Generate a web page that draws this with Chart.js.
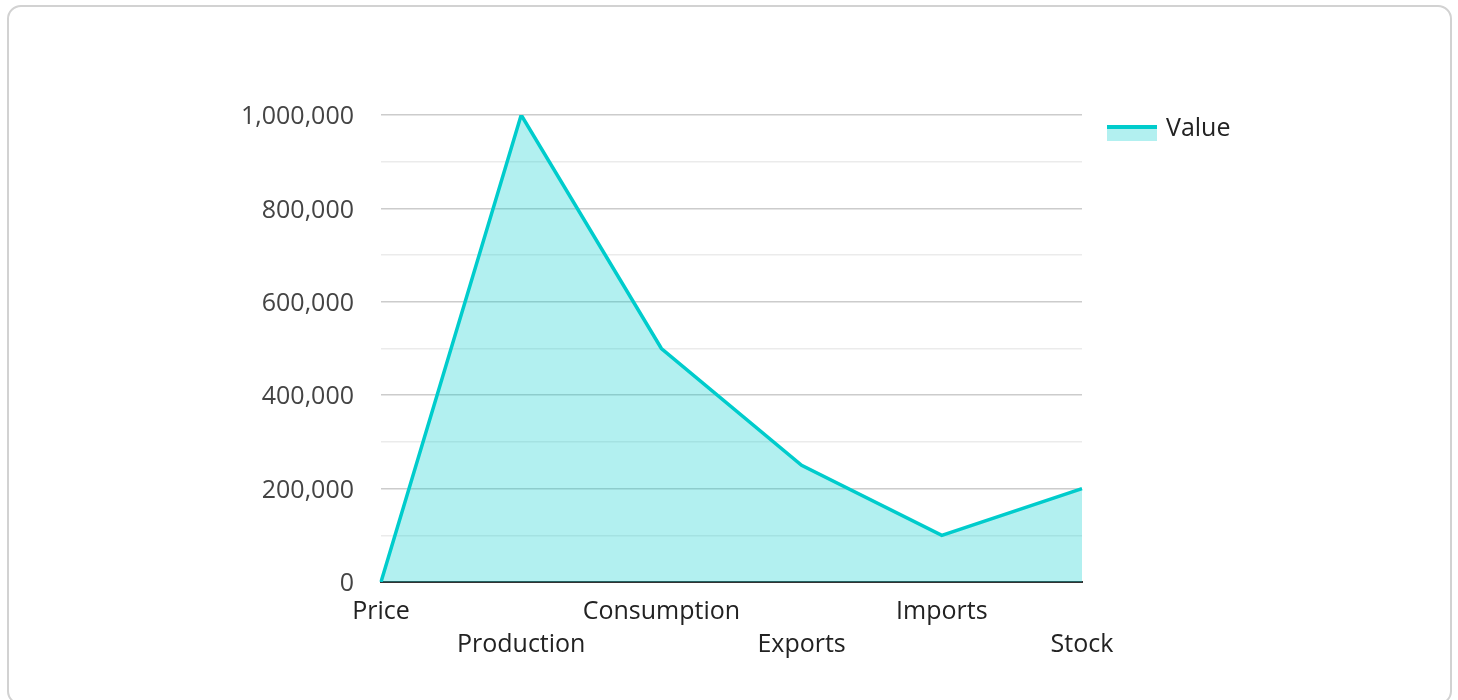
<!DOCTYPE html>
<html>
<head>
<meta charset="utf-8">
<script src="https://cdn.jsdelivr.net/npm/chart.js@4.4.1/dist/chart.umd.min.js"></script>
<style>
  html, body { margin: 0; padding: 0; background: #fff; }
  body { width: 1458px; height: 700px; position: relative; overflow: hidden; }
  .card {
    position: absolute; left: 7px; top: 5px; width: 1445px; height: 700px;
    border: 2px solid #d2d2d2; border-radius: 14px; box-sizing: border-box;
  }
  #chart { position: absolute; left: 0; top: 0; }
</style>
</head>
<body>
<div class="card"></div>
<canvas id="chart" width="1458" height="700"></canvas>
<script>
const categories = ["Price", "Production", "Consumption", "Exports", "Imports", "Stock"];
const values = [0, 1000000, 500000, 250000, 100000, 200000];
const seriesName = "Value";
const yMax = 1000000;
const yStep = 100000;

Chart.defaults.font.family = "'Open Sans', 'Noto Sans', sans-serif";
Chart.defaults.font.size = 25;

// legend drawn by hand to the right of the plot
const sideLegend = {
  id: "sideLegend",
  afterDraw(chart) {
    const ctx = chart.ctx;
    const area = chart.chartArea;
    const ds = chart.data.datasets[0];
    const x = area.right + 25;
    const y = area.top + 12;
    ctx.save();
    ctx.fillStyle = ds.backgroundColor;
    ctx.fillRect(x, y, 50, 14);
    ctx.fillStyle = ds.borderColor;
    ctx.fillRect(x, y - 2, 50, 4);
    ctx.fillStyle = "#222";
    ctx.font = "25px 'Open Sans', 'Noto Sans', sans-serif";
    ctx.textBaseline = "middle";
    ctx.fillText(ds.label, x + 59, y + 2);
    ctx.restore();
  }
};

new Chart(document.getElementById("chart"), {
  type: "line",
  data: {
    labels: categories,
    datasets: [{
      label: seriesName,
      data: values,
      borderColor: "#00cccc",
      backgroundColor: "rgba(0, 204, 204, 0.3)",
      borderWidth: 3.5,
      fill: "origin",
      pointRadius: 0,
      tension: 0
    }]
  },
  options: {
    responsive: false,
    animation: false,
    layout: { padding: { left: 0, top: 115, right: 376, bottom: 0 } },
    plugins: { legend: { display: false }, tooltip: { enabled: false } },
    scales: {
      x: {
        offset: false,
        grid: { display: false },
        border: { display: true, color: "#333", width: 2 },
        afterFit: (scale) => { scale.height = 118; },
        ticks: {
          color: "#222",
          padding: 5,
          autoSkip: false,
          maxRotation: 0,
          font: { size: 25, lineHeight: 1.32 },
          callback: function (value, index) {
            const name = this.getLabelForValue(value);
            return index % 2 === 0 ? [name] : ["", name];
          }
        }
      },
      y: {
        min: 0,
        max: yMax,
        border: { display: false },
        afterFit: (scale) => { scale.width = 381; },
        grid: {
          drawTicks: false,
          color: (c) => c.tick && c.tick.value === 0 ? "rgba(0,0,0,0)" : (c.tick && c.tick.value % 200000 === 0 ? "#cccccc" : "#ebebeb"),
          lineWidth: 1.5
        },
        ticks: {
          stepSize: yStep,
          color: "#444",
          padding: 27,
          labelOffset: 2,
          font: { size: 25 },
          callback: (v) => v % 200000 === 0 ? v.toLocaleString("en-US") : ""
        }
      }
    }
  },
  plugins: [sideLegend]
});
</script>
</body>
</html>
